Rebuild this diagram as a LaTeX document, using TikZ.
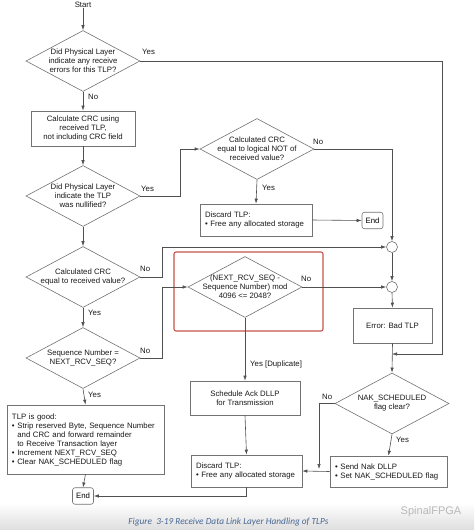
\documentclass[tikz,border=0pt]{standalone}
\usepackage{fontspec}
\setmainfont{Liberation Sans}
\newfontfamily\capfont{Carlito}
\usetikzlibrary{arrows.meta,shapes.geometric,calc}
\definecolor{linec}{RGB}{80,80,80}
\definecolor{boxc}{RGB}{115,115,115}
\definecolor{redc}{RGB}{196,86,74}
\definecolor{capc}{RGB}{72,104,150}
\tikzset{
  txt/.style={font=\fontsize{7.8}{9}\selectfont, inner sep=0pt, align=center, text=black!90},
  dia/.style={draw=boxc, line width=0.6pt, diamond, inner sep=0pt, minimum width=114pt, minimum height=61pt, fill=white},
  cbox/.style={draw=boxc, line width=0.6pt, rectangle, inner sep=0pt, align=center, font=\fontsize{7.8}{9}\selectfont, fill=white, text=black!90},
  lbox/.style={draw=boxc, line width=0.6pt, rectangle, inner xsep=5pt, inner ysep=0pt, align=left, font=\fontsize{7.8}{9}\selectfont, fill=white, text=black!90},
  endb/.style={draw=boxc, line width=0.6pt, rectangle, rounded corners=2.5pt, minimum width=21pt, minimum height=16.5pt, inner sep=0pt, font=\fontsize{7.8}{9}\selectfont, fill=white},
  circ/.style={draw=boxc, line width=0.6pt, circle, minimum size=11pt, inner sep=0pt, fill=white},
  arr/.style={draw=linec, line width=0.6pt, -{Latex[length=5pt,width=3.4pt]}},
  lbl/.style={txt, anchor=west}
}
\begin{document}
\begin{tikzpicture}[x=1pt,y=-1pt]
\useasboundingbox (0,0) rectangle (474,530);
\fill[white] (0,0) rectangle (474,530);
\shade[top color=white,bottom color=black!13] (0,503) rectangle (474,530);

% nodes
\node[txt] (start) at (83,5) {Start};
\node[dia] (d1) at (83,61) {};
\node[txt] (d1t) at (83,61) {Did Physical Layer\\indicate any receive\\errors for this TLP?};
\node[cbox, minimum width=104pt, minimum height=35pt] (calc) at (83,128.5) {Calculate CRC using\\received TLP,\\not including CRC field};
\node[dia] (d2) at (83,196) {};
\node[txt] (d2t) at (83,196) {Did Physical Layer\\indicate the TLP\\was nullified?};
\node[dia] (d3) at (257,149) {};
\node[txt] (d3t) at (257,149) {Calculated CRC\\equal to logical NOT of\\received value?};
\node[lbox, text width=102pt, minimum height=32pt] (disc1) at (256,220) {Discard TLP:\\\textbullet\ Free any allocated storage};
\node[endb] (end1) at (372.5,220.5) {End};
\node[circ] (c1) at (392,247) {};
\node[circ] (c2) at (392,287) {};
\node[cbox, minimum width=79pt, minimum height=35pt] (err) at (392.5,325.5) {Error: Bad TLP};
\node[dia] (d4) at (83,277) {};
\node[txt] (d4t) at (83,277) {Calculated CRC\\equal to received value?};
\draw[redc, line width=1.1pt, rounded corners=2pt] (174,252) rectangle (323,331);
\node[dia] (d5) at (83,358) {};
\node[txt] (d5t) at (83,358) {Sequence Number =\\NEXT\_RCV\_SEQ?};
\node[dia] (d6) at (245,287) {};
\node[txt] (d6t) at (245,287) {(NEXT\_RCV\_SEQ -\\Sequence Number) mod\\4096 <= 2048?};
\node[cbox, minimum width=110pt, minimum height=34pt] (sched) at (245,398) {Schedule Ack DLLP\\for Transmission};
\node[lbox, text width=101pt, minimum height=32pt] (disc2) at (246.5,471) {Discard TLP:\\\textbullet\ Free any allocated storage};
\node[lbox, text width=147pt, minimum height=69pt] (tlp) at (85.5,439.5) {TLP is good:\\\textbullet\ Strip reserved Byte, Sequence Number\\\phantom{\textbullet\ }and CRC and forward remainder\\\phantom{\textbullet\ }to Receive Transaction layer\\\textbullet\ Increment NEXT\_RCV\_SEQ\\\textbullet\ Clear NAK\_SCHEDULED flag};
\node[endb] (end2) at (83,496) {End};
\node[dia] (nak) at (392,403.5) {};
\node[txt] (nakt) at (392,403.5) {NAK\_SCHEDULED\\flag clear?};
\node[lbox, text width=107pt, minimum height=31pt] (send) at (388.5,471.5) {\textbullet\ Send Nak DLLP\\\textbullet\ Set NAK\_SCHEDULED flag};

% labels
\node[lbl] (l1) at (142,52) {Yes};
\node[lbl] (l2) at (88,97) {No};
\node[lbl] (l3) at (141,189) {Yes};
\node[lbl] (l4) at (313,142) {No};
\node[lbl] (l5) at (262,188) {Yes};
\node[lbl] (l6) at (140,269) {No};
\node[lbl] (l7) at (88,313) {Yes};
\node[lbl] (l8) at (140,351) {No};
\node[lbl] (l9) at (88,395) {Yes};
\node[lbl] (l10) at (301,279) {No};
\node[lbl] (l11) at (250,364) {Yes [Duplicate]};
\node[lbl] (l12) at (322,397) {No};
\node[lbl] (l13) at (396,440) {Yes};

% connectors
\coordinate (yr) at (442,354);
\coordinate (j3) at (392,354);
\coordinate (k2) at (180,149);
\coordinate (k4) at (162,247);
\coordinate (k5) at (162,287);
\coordinate (k6) at (319,469);
\draw[arr] (start) -- (d1.north);
\draw[arr] (d1.east) -| (yr) -- (j3);
\draw[arr] (d1.south) -- (calc.north);
\draw[arr] (calc.south) -- (d2.north);
\draw[arr] (d2.east) -| (k2) -- (d3.west);
\draw[arr] (d3.east) -| (c1.north);
\draw[arr] (d3.south) -- (disc1.north);
\draw[arr] (disc1.east) -- (end1.west);
\draw[arr] (d2.south) -- (d4.north);
\draw[arr] (d4.east) -| (k4) -- (c1.west);
\draw[arr] (d4.south) -- (d5.north);
\draw[arr] (d5.east) -| (k5) -- (d6.west);
\draw[arr] (d6.east) -- (c2.west);
\draw[arr] (c1.south) -- (c2.north);
\draw[arr] (c2.south) -- (err.north);
\draw[arr] (err.south) -- (nak.north);
\draw[arr] (d6.south) -- (sched.north);
\draw[arr] (sched.south) -- (disc2.north);
\draw[arr] (disc2.south) |- (end2.east);
\draw[arr] (d5.south) -- (tlp.north);
\draw[arr] (tlp.south) -- (end2.north);
\draw[arr] (nak.south) -- (send.north);
\draw[arr] (send.west) -- (disc2.east);
\draw[arr] (nak.west) -| (k6);

% caption and watermark
\node[font=\capfont\itshape\fontsize{9.3}{11}\selectfont, text=capc, inner sep=0pt] (cap) at (228.5,522) {Figure\ \ 3-19 Receive Data Link Layer Handling of TLPs};
\node[text=black!28, font=\fontsize{11}{12}\selectfont, inner sep=0pt] (wm) at (431,512) {SpinalFPGA};
\end{tikzpicture}
\end{document}
